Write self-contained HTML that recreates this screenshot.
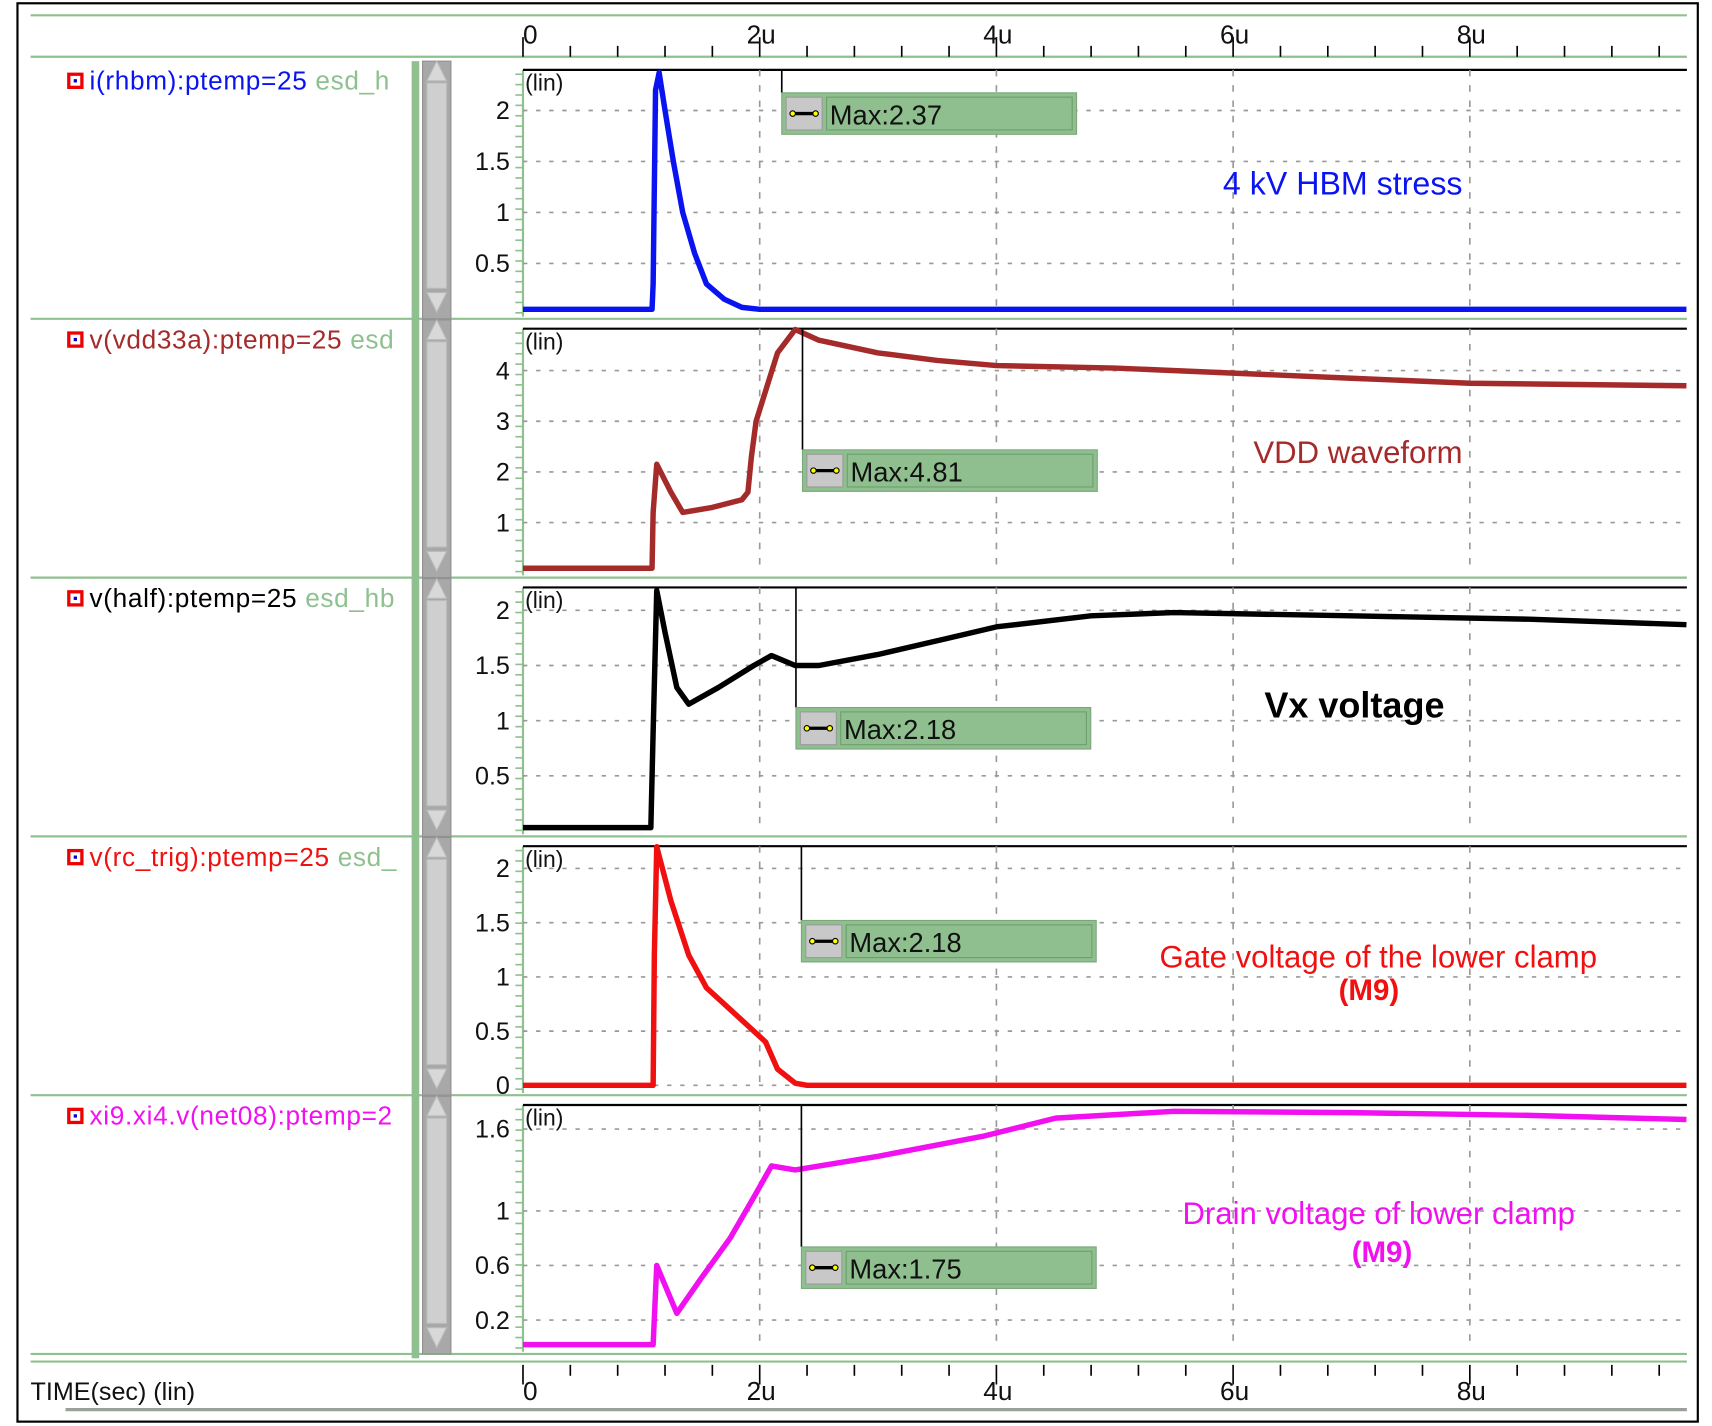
<!DOCTYPE html>
<html><head><meta charset="utf-8">
<style>
html,body{margin:0;padding:0;background:#fff;}
svg{display:block;font-family:"Liberation Sans","DejaVu Sans",sans-serif;}
</style></head>
<body>
<svg id="chart" width="1712" height="1426" viewBox="0 0 1568 1306" preserveAspectRatio="none" xmlns="http://www.w3.org/2000/svg">
<rect x="0" y="0" width="1568" height="1306" fill="#fff"/>
<rect x="16" y="3" width="1539" height="1299" fill="none" stroke="#000" stroke-width="2"/>
<g id="g"></g>
</svg>
<script>
// ---- data ----
const xTickLabels = ["0","2u","4u","6u","8u"];
const xTickValues = [0,2,4,6,8];
const p1t = [0,1.09,1.1,1.12,1.15,1.2,1.27,1.35,1.45,1.55,1.7,1.85,2.0,9.83];
const p1v = [0.05,0.05,0.3,2.2,2.37,2.0,1.5,1.0,0.6,0.3,0.15,0.07,0.05,0.05];
const p2t = [0,1.09,1.1,1.13,1.25,1.35,1.6,1.85,1.9,1.93,1.97,2.05,2.15,2.3,2.5,3,3.5,4,5,6,7,8,9.83];
const p2v = [0.1,0.1,1.2,2.15,1.6,1.2,1.3,1.45,1.6,2.3,3.0,3.6,4.35,4.81,4.6,4.35,4.2,4.1,4.05,3.95,3.85,3.75,3.7];
const p3t = [0,1.08,1.1,1.13,1.2,1.3,1.4,1.65,1.95,2.1,2.3,2.5,3,3.6,4,4.8,5.5,7,8.5,9.83];
const p3v = [0.03,0.03,0.9,2.18,1.8,1.3,1.15,1.3,1.5,1.59,1.5,1.5,1.6,1.75,1.85,1.95,1.98,1.95,1.92,1.87];
const p4t = [0,1.1,1.11,1.13,1.25,1.4,1.55,1.7,1.95,2.05,2.15,2.3,2.4,9.83];
const p4v = [0,0,1.2,2.2,1.7,1.2,0.9,0.75,0.5,0.4,0.15,0.02,0,0];
const p5t = [0,1.1,1.13,1.3,1.5,1.75,1.95,2.1,2.3,3,3.9,4.5,5.5,7,8.5,9.83];
const p5v = [0.02,0.02,0.6,0.25,0.5,0.8,1.1,1.33,1.3,1.4,1.55,1.68,1.73,1.72,1.7,1.67];
const p1ticks=[0.5,1,1.5,2], p2ticks=[1,2,3,4], p3ticks=[0.5,1,1.5,2], p4ticks=[0,0.5,1,1.5,2], p5ticks=[0.2,0.6,1,1.6];
const p1tl=["0.5","1","1.5","2"], p2tl=["1","2","3","4"], p3tl=["0.5","1","1.5","2"], p4tl=["0","0.5","1","1.5","2"], p5tl=["0.2","0.6","1","1.6"];
const maxLabels=["Max:2.37","Max:4.81","Max:2.18","Max:2.18","Max:1.75"];

const NS="http://www.w3.org/2000/svg";
const G=document.getElementById('g');
function mk(tag,attrs,parent){const e=document.createElementNS(NS,tag);for(const k in attrs)e.setAttribute(k,attrs[k]);(parent||G).appendChild(e);return e;}
const X0=479, PXU=108.4, XR=1545;
const xs=t=>X0+t*PXU;

const panels=[
 {top:64,bot:292,y0:288,ppu:93.4,t:p1t,v:p1v,ticks:p1ticks,tl:p1tl,col:"#0a14f0",name:"i(rhbm):ptemp=25",tail:" esd_h",mx:716,by:85},
 {top:301,bot:529,y0:525,ppu:46.4,t:p2t,v:p2v,ticks:p2ticks,tl:p2tl,col:"#a52a2a",name:"v(vdd33a):ptemp=25",tail:" esd",mx:735,by:412},
 {top:538,bot:766,y0:761,ppu:101,t:p3t,v:p3v,ticks:p3ticks,tl:p3tl,col:"#000",name:"v(half):ptemp=25",tail:" esd_hb",mx:729,by:648},
 {top:775,bot:1003,y0:994,ppu:99.3,t:p4t,v:p4v,ticks:p4ticks,tl:p4tl,col:"#f01010",name:"v(rc_trig):ptemp=25",tail:" esd_",mx:734,by:843},
 {top:1012,bot:1240,y0:1234,ppu:125,t:p5t,v:p5v,ticks:p5ticks,tl:p5tl,col:"#f010f0",name:"xi9.xi4.v(net08):ptemp=2",tail:"",mx:734,by:1142}
];

let l;
l=mk('line',{x1:28,y1:14,x2:1545,y2:14,stroke:'#8fc08f','stroke-width':2});


l=mk('line',{x1:28,y1:52,x2:1545,y2:52,stroke:'#8fc08f','stroke-width':2});


l=mk('line',{x1:28,y1:1247,x2:1545,y2:1247,stroke:'#8fc08f','stroke-width':2});


l=mk('line',{x1:60,y1:1291,x2:1545,y2:1291,stroke:'#9aa09a','stroke-width':3});


l=mk('rect',{x:377,y:56,width:7,height:1188,fill:'#90c090'});



[[42,52,32],[1250,1260,1282]].forEach((a,ai)=>{
  for(let t=0;t<=9.8;t+=0.4){
    const major=Math.abs(t/2-Math.round(t/2))<1e-6;
    const x=xs(t);
    const tk=mk('line',{x1:x,y1:ai==0?(major?a[0]-8:a[0]):a[0],x2:x,y2:ai==0?a[1]:(major?a[1]+8:a[1]),stroke:'#000','stroke-width':1.5});
    
    
  }
  xTickValues.forEach((v,i)=>{
    const tx=mk('text',{x:xs(v)+(i==0?0:-12),y:a[2]+(ai==0?8:0),'font-size':24,fill:'#111'});
    tx.textContent=xTickLabels[i];
    
    
  });
});
l=mk('text',{x:28,y:1282,'font-size':23,fill:'#111'});
l.textContent="TIME(sec) (lin)";



panels.forEach((p,pi)=>{
  const ys=v=>p.y0-v*p.ppu;
  let e=mk('line',{x1:28,y1:p.bot,x2:1545,y2:p.bot,stroke:'#8fc08f','stroke-width':2});
  
  
  e=mk('rect',{x:387,y:p.top-8,width:26,height:p.bot-p.top+8,fill:'#a8a8a8',stroke:'#909090'});
  
  
  e=mk('rect',{x:391,y:p.top+12,width:18,height:p.bot-p.top-40,fill:'#cfcfcf',stroke:'#bbb'});
  
  
  e=mk('path',{d:`M391 ${p.top+10} L400 ${p.top-8} L409 ${p.top+10} Z M391 ${p.bot-24} L400 ${p.bot-6} L409 ${p.bot-24} Z`,fill:'#d8d8d8',stroke:'#bbb'});
  
  
  e=mk('rect',{x:63,y:p.top+4,width:12,height:12,fill:'none',stroke:'#e00','stroke-width':3});
  
  
  e=mk('rect',{x:67.5,y:p.top+8.5,width:3,height:3,fill:'#00c'});
  
  
  e=mk('text',{x:82,y:p.top+18,'font-size':24,fill:p.col,'letter-spacing':0.6});
  e.textContent=p.name;
  const ts=mk('tspan',{fill:'#8fc08f'},e); ts.textContent=p.tail;
  
  
  e=mk('line',{x1:X0,y1:p.top,x2:X0,y2:p.bot-2,stroke:'#8fc08f','stroke-width':2});
  
  
  for(let y=p.top+4;y<p.bot-4;y+=9.5){
    e=mk('line',{x1:X0-7,y1:y,x2:X0,y2:y,stroke:'#8fc08f','stroke-width':1.5});
    
    
  }
  e=mk('line',{x1:X0,y1:p.top,x2:XR,y2:p.top,stroke:'#000','stroke-width':2});
  
  
  p.ticks.forEach((v,i)=>{
    const y=ys(v);
    e=mk('line',{x1:X0,y1:y,x2:XR,y2:y,stroke:'#999','stroke-width':1.5,'stroke-dasharray':'4 8'});
    
    
    e=mk('text',{x:467,y:y+8,'font-size':23,fill:'#111','text-anchor':'end'});
    e.textContent=p.tl[i];
    
    
  });
  xTickValues.forEach(v=>{ if(v>0){
    e=mk('line',{x1:xs(v),y1:p.top,x2:xs(v),y2:p.bot-4,stroke:'#999','stroke-width':1.5,'stroke-dasharray':'6 8'});
    
    
  }});
  e=mk('text',{x:481,y:p.top+19,'font-size':21,fill:'#111'});
  e.textContent="(lin)";
  
  
  const d=p.t.map((t,i)=>(i?'L':'M')+xs(t).toFixed(1)+' '+ys(p.v[i]).toFixed(1)).join(' ');
  e=mk('path',{d:d,fill:'none',stroke:p.col,'stroke-width':5,'stroke-linejoin':'round'});
  
  
  e=mk('line',{x1:p.mx,y1:p.top,x2:p.mx,y2:p.by,stroke:'#000','stroke-width':1.5});
  
  
  const mg=mk('g',{});
  
  
  mk('rect',{x:p.mx,y:p.by,width:270,height:38,fill:'#8fbf8f',stroke:'#7aa77a'},mg);
  mk('rect',{x:p.mx+4,y:p.by+4,width:33,height:30,fill:'#c8c8c8',stroke:'#9a9a9a'},mg);
  mk('line',{x1:p.mx+10,y1:p.by+19,x2:p.mx+31,y2:p.by+19,stroke:'#000','stroke-width':3},mg);
  mk('circle',{cx:p.mx+10,cy:p.by+19,r:2.5,fill:'#ff0',stroke:'#000'},mg);
  mk('circle',{cx:p.mx+31,cy:p.by+19,r:2.5,fill:'#ff0',stroke:'#000'},mg);
  mk('rect',{x:p.mx+41,y:p.by+4,width:225,height:30,fill:'#8fbf8f',stroke:'#6e9e6e'},mg);
  const mt=mk('text',{x:p.mx+44,y:p.by+29,'font-size':25,fill:'#111'},mg);
  mt.textContent=maxLabels[pi];
});

const ann=[
 [1120,178,"4 kV HBM stress","#0a14f0",29.5,"normal","hbm-annotation"],
 [1148,424,"VDD waveform","#a52a2a",28.5,"normal","vdd-annotation"],
 [1158,657,"Vx voltage","#000",33,"bold","vx-annotation"],
 [1062,886,"Gate voltage of the lower clamp","#f01010",28.5,"normal","gate-annotation"],
 [1226,916,"(M9)","#f01010",27,"bold","gate-m9-annotation"],
 [1083,1121,"Drain voltage of lower clamp","#f010f0",28.5,"normal","drain-annotation"],
 [1238,1156,"(M9)","#f010f0",27,"bold","drain-m9-annotation"]
];
ann.forEach(a=>{
  const e=mk('text',{x:a[0],y:a[1],'font-size':a[4],'font-weight':a[5],fill:a[3]});
  e.textContent=a[2];
  
  
});
</script>
</body></html>
